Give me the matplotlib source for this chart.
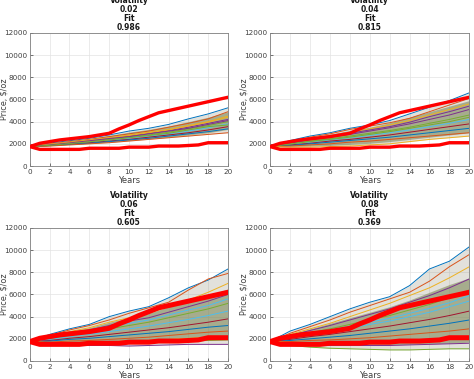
import matplotlib
matplotlib.use("Agg")
import matplotlib.pyplot as plt

# ── Data ──
years = list(range(0, 21))
years_sim = list(range(0, 21, 2))

red_high = [1750, 2050, 2200, 2350, 2450, 2550, 2650, 2800, 2950, 3350, 3700,
            4100, 4450, 4800, 5000, 5200, 5400, 5600, 5800, 6000, 6200]
red_low = [1750, 1500, 1500, 1500, 1500, 1500, 1600, 1600, 1600, 1600, 1700,
           1700, 1700, 1800, 1800, 1800, 1850, 1900, 2100, 2100, 2100]

volatility = ["0.02", "0.04", "0.06", "0.08"]
fit = ["0.986", "0.815", "0.605", "0.369"]

# dense core of simulated paths (upper / lower)
core_hi = [
    [1750, 2050, 2250, 2450, 2750, 3050, 3300, 3600, 4000, 4400, 4900],
    [1750, 2200, 2550, 2850, 3200, 3500, 3900, 4400, 4900, 5400, 5900],
    [1750, 2250, 2650, 3000, 3500, 3900, 4300, 4900, 5400, 5900, 6500],
    [1750, 2400, 2900, 3400, 3900, 4400, 4900, 5500, 6200, 6900, 7500],
]
core_lo = [
    [1750, 1850, 1950, 2050, 2150, 2300, 2450, 2600, 2800, 3000, 3300],
    [1750, 1750, 1800, 1850, 1950, 2050, 2200, 2400, 2600, 2800, 3000],
    [1750, 1650, 1600, 1600, 1600, 1650, 1700, 1800, 1900, 2000, 2100],
    [1750, 1550, 1450, 1400, 1400, 1400, 1450, 1500, 1550, 1600, 1700],
]

paths_02 = [
    [1750, 2080, 2280, 2500, 2800, 3150, 3400, 3750, 4250, 4700, 5250],
    [1750, 2000, 2200, 2400, 2650, 2900, 3150, 3500, 3850, 4250, 4900],
    [1750, 1950, 2150, 2350, 2550, 2800, 3050, 3300, 3650, 4000, 4500],
    [1750, 1920, 2100, 2250, 2450, 2700, 2950, 3200, 3500, 3850, 4200],
    [1750, 1900, 2050, 2200, 2400, 2600, 2800, 3050, 3350, 3650, 4000],
    [1750, 1880, 2000, 2150, 2300, 2500, 2700, 2900, 3150, 3450, 3800],
    [1750, 1850, 1980, 2100, 2250, 2400, 2600, 2800, 3000, 3250, 3550],
    [1750, 1830, 1950, 2050, 2200, 2350, 2500, 2700, 2900, 3100, 3350],
    [1750, 1800, 1900, 2000, 2100, 2250, 2400, 2550, 2700, 2850, 3000],
    [1750, 1950, 2120, 2300, 2500, 2750, 3000, 3250, 3600, 3950, 4400],
    [1750, 1900, 2080, 2280, 2480, 2650, 2900, 3150, 3400, 3750, 4100],
    [1750, 1860, 2020, 2180, 2350, 2550, 2750, 2950, 3250, 3550, 3700],
]
paths_04 = [
    [1750, 2300, 2700, 3000, 3400, 3700, 4100, 4700, 5300, 5900, 6600],
    [1750, 2200, 2600, 2900, 3300, 3600, 3900, 4300, 4900, 5500, 6100],
    [1750, 2150, 2450, 2750, 3050, 3350, 3700, 4100, 4600, 5100, 5600],
    [1750, 2050, 2350, 2600, 2850, 3150, 3450, 3800, 4200, 4600, 5100],
    [1750, 2000, 2250, 2450, 2700, 2950, 3200, 3500, 3850, 4200, 4600],
    [1750, 1950, 2150, 2350, 2550, 2750, 3000, 3250, 3550, 3850, 4200],
    [1750, 1900, 2050, 2250, 2400, 2600, 2800, 3050, 3300, 3550, 3800],
    [1750, 1850, 2000, 2150, 2300, 2450, 2600, 2800, 3000, 3200, 3400],
    [1750, 1800, 1900, 2000, 2150, 2250, 2400, 2550, 2700, 2850, 3000],
    [1750, 1700, 1700, 1750, 1800, 1900, 2000, 2200, 2400, 2550, 2700],
    [1750, 2100, 2400, 2650, 2950, 3250, 3550, 3950, 4450, 4900, 5400],
    [1750, 1980, 2200, 2400, 2600, 2850, 3100, 3400, 3700, 4000, 4400],
]
paths_06 = [
    [1750, 2400, 2900, 3300, 4000, 4500, 4900, 5700, 6600, 7300, 8300],
    [1750, 2300, 2800, 3200, 3700, 4300, 4800, 5300, 6400, 7400, 7900],
    [1750, 2200, 2650, 3000, 3500, 3900, 4300, 4900, 5500, 6200, 7000],
    [1750, 2100, 2500, 2800, 3200, 3600, 3900, 4400, 4900, 5400, 6000],
    [1750, 2000, 2300, 2600, 2900, 3200, 3500, 3900, 4300, 4700, 5200],
    [1750, 1950, 2200, 2400, 2650, 2900, 3150, 3450, 3750, 4100, 4500],
    [1750, 1850, 2050, 2200, 2400, 2600, 2800, 3000, 3250, 3500, 3800],
    [1750, 1800, 1950, 2050, 2200, 2350, 2500, 2650, 2850, 3050, 3200],
    [1750, 1700, 1800, 1850, 1950, 2050, 2150, 2300, 2450, 2600, 2700],
    [1750, 1650, 1650, 1700, 1750, 1800, 1850, 1950, 2050, 2150, 2200],
    [1750, 1550, 1450, 1400, 1400, 1350, 1400, 1450, 1500, 1500, 1500],
    [1750, 1600, 1550, 1500, 1550, 1600, 1650, 1750, 1800, 1850, 1900],
    [1750, 2050, 2400, 2700, 3050, 3400, 3700, 4150, 4600, 5000, 5600],
]
paths_08 = [
    [1750, 2700, 3300, 4000, 4700, 5300, 5800, 6800, 8300, 9000, 10300],
    [1750, 2500, 3100, 3700, 4400, 5000, 5600, 6200, 7200, 8500, 9600],
    [1750, 2400, 2900, 3400, 4000, 4600, 5200, 5900, 6600, 7500, 8500],
    [1750, 2300, 2750, 3200, 3700, 4200, 4700, 5300, 5900, 6600, 7400],
    [1750, 2200, 2550, 2900, 3300, 3700, 4100, 4600, 5100, 5700, 6400],
    [1750, 2050, 2350, 2650, 2950, 3300, 3600, 4000, 4400, 4900, 5400],
    [1750, 1950, 2200, 2400, 2650, 2900, 3150, 3450, 3750, 4100, 4500],
    [1750, 1850, 2000, 2150, 2300, 2500, 2700, 2900, 3150, 3400, 3700],
    [1750, 1750, 1850, 1900, 2000, 2100, 2250, 2400, 2550, 2700, 2900],
    [1750, 1650, 1650, 1650, 1700, 1750, 1800, 1850, 1950, 2050, 2200],
    [1750, 1550, 1450, 1400, 1400, 1400, 1400, 1450, 1500, 1550, 1600],
    [1750, 1400, 1250, 1150, 1100, 1050, 1000, 1000, 1050, 1100, 1100],
    [1750, 2150, 2450, 2800, 3150, 3500, 3850, 4300, 4750, 5250, 5900],
]
all_paths = [paths_02, paths_04, paths_06, paths_08]

# MATLAB default line colours
MCOLORS = ["#0072BD", "#D95319", "#EDB120", "#7E2F8E",
           "#77AC30", "#4DBEEE", "#A2142F"]
TXT = "#404040"

fig = plt.figure(figsize=(4.74, 3.79), dpi=100)
positions = [
    [0.063, 0.562, 0.418, 0.351],
    [0.570, 0.562, 0.420, 0.351],
    [0.063, 0.0475, 0.418, 0.351],
    [0.570, 0.0475, 0.420, 0.351],
]
red_lw = [2.4, 2.4, 3.6, 3.6]

for i, pos in enumerate(positions):
    ax = fig.add_axes(pos)
    paths = all_paths[i]
    # sparse outer spread
    ax.fill_between(years_sim, min(paths, key=lambda p: p[-1]),
                    max(paths, key=lambda p: p[-1]),
                    color="#8d8a70", alpha=0.25, lw=0, zorder=1)
    # dense core
    ax.fill_between(years_sim, core_lo[i], core_hi[i], color="#7f8a5a",
                    alpha=0.6, lw=0, zorder=1)
    for j, p in enumerate(paths):
        ax.plot(years_sim, p, color=MCOLORS[j % len(MCOLORS)], lw=0.7, zorder=2)
    ax.plot(years, red_high, color="#FF0000", lw=red_lw[i], zorder=3)
    ax.plot(years, red_low, color="#FF0000", lw=red_lw[i], zorder=3)

    ax.set_xlim(0, 20)
    ax.set_ylim(0, 12000)
    ax.set_xticks(range(0, 21, 2))
    ax.set_yticks(range(0, 12001, 2000))
    ax.grid(True, color="#e3e3e3", lw=0.5)
    ax.set_axisbelow(True)
    ax.tick_params(direction="in", length=2, width=0.5, labelsize=5.2,
                   colors=TXT, pad=2)
    for s in ax.spines.values():
        s.set_color("#808080")
        s.set_linewidth(0.6)
    ax.set_xlabel("Years", fontsize=6, color=TXT, labelpad=1)
    ax.set_ylabel(r"Price, \$/oz", fontsize=5.8, color=TXT)
    ax.yaxis.set_label_coords(-0.108, 0.5)
    ax.set_title(f"Volatility\n{volatility[i]}\nFit\n{fit[i]}", fontsize=5.5,
                 fontweight="bold", linespacing=1.0, pad=2, color="#1a1a1a")

fig.savefig("out.png", dpi=100, facecolor="white")
